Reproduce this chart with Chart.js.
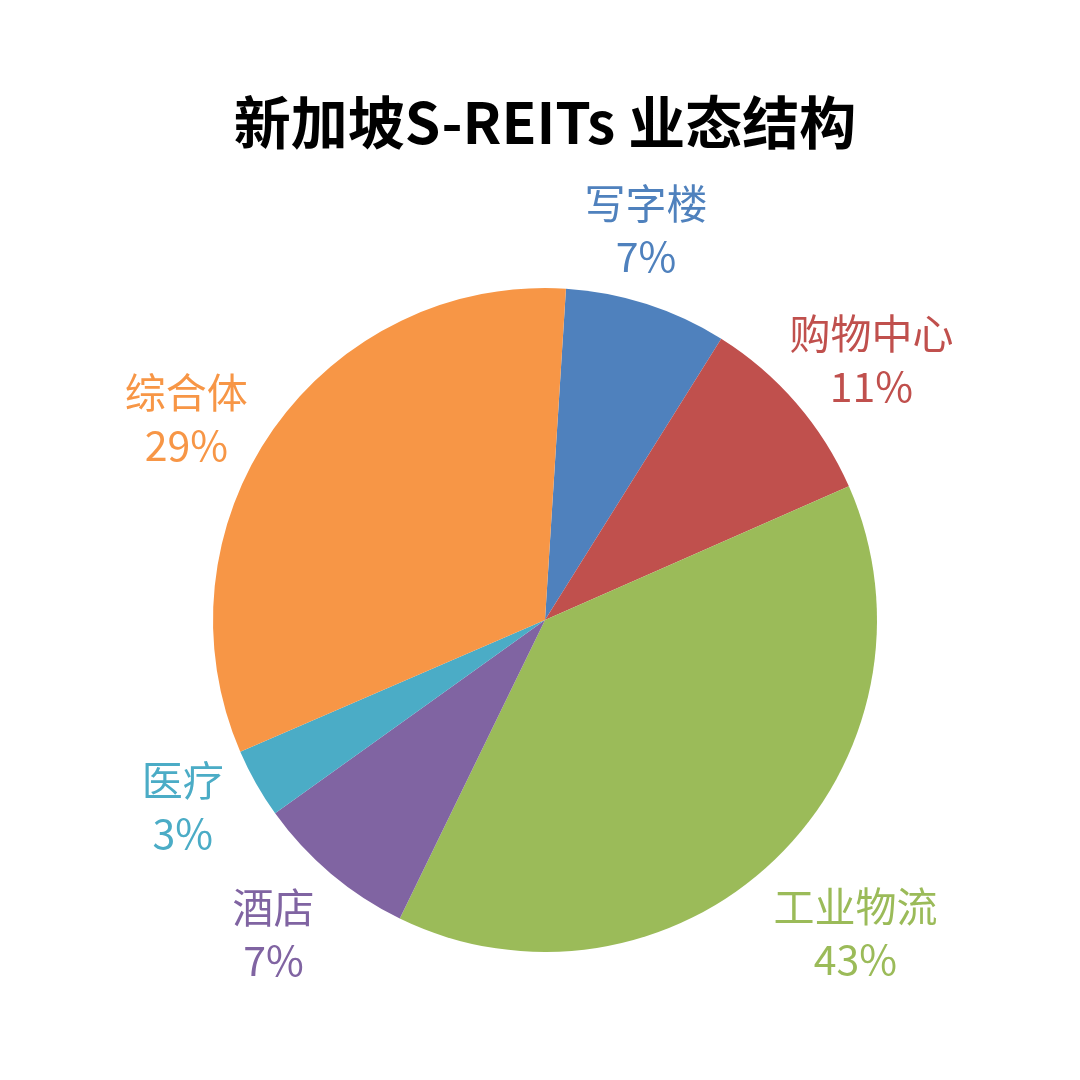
<!DOCTYPE html>
<html>
<head>
<meta charset="utf-8">
<script src="https://cdn.jsdelivr.net/npm/chart.js@4"></script>
<style>
  html, body { margin: 0; padding: 0; background: #ffffff; }
  #wrap { width: 1080px; height: 1080px; }
</style>
</head>
<body>
<div id="wrap"><canvas id="c" width="1080" height="1080"></canvas></div>
<script>
// Categories
const categories = ['写字楼', '购物中心', '工业物流', '酒店', '医疗', '综合体'];
// Slice sizes (share of the circle, %)
const sliceValues = [7.9, 9.5, 38.8, 7.9, 3.4, 32.5];
// Percentages printed in the picture
const pctLabels = ['7%', '11%', '43%', '7%', '3%', '29%'];
const colors = ['#4F81BD', '#C0504D', '#9BBB59', '#8064A2', '#4BACC6', '#F79646'];
const titleText = '新加坡S-REITs 业态结构';

// label nudges (px) relative to mid-angle placement
const labelNudge = [[-25, 2], [15, 10], [25, 17], [-6, 0], [-4, -15], [-22, 36]];

const outsideLabels = {
  id: 'outsideLabels',
  afterDatasetsDraw(chart) {
    const ctx = chart.ctx;
    const meta = chart.getDatasetMeta(0);
    ctx.save();
    ctx.textAlign = 'center';
    ctx.textBaseline = 'middle';
    ctx.font = '400 41px "Noto Sans CJK SC", "Noto Sans", sans-serif';
    meta.data.forEach((arc, i) => {
      const p = arc.getProps(['x', 'y', 'startAngle', 'endAngle', 'outerRadius'], true);
      const mid = (p.startAngle + p.endAngle) / 2;
      const r = p.outerRadius * 1.24;
      const x = p.x + Math.cos(mid) * r + labelNudge[i][0];
      const y = p.y + Math.sin(mid) * r + labelNudge[i][1];
      ctx.fillStyle = colors[i];
      ctx.fillText(categories[i], x, y - 27);
      ctx.fillText(pctLabels[i], x, y + 26);
    });
    ctx.restore();
  }
};

new Chart(document.getElementById('c'), {
  type: 'pie',
  data: {
    labels: categories,
    datasets: [{
      data: sliceValues,
      backgroundColor: colors,
      borderWidth: 0
    }]
  },
  options: {
    responsive: false,
    animation: false,
    rotation: 3.62,
    layout: { padding: { top: 0, bottom: 128, left: 213, right: 203 } },
    plugins: {
      legend: { display: false },
      tooltip: { enabled: false },
      title: {
        display: true,
        text: titleText,
        color: '#000000',
        font: { family: '"Noto Sans CJK SC", "Noto Sans", sans-serif', size: 57, weight: 'bold', lineHeight: 1.2 },
        padding: { top: 88, bottom: 131.6 }
      }
    }
  },
  plugins: [outsideLabels]
});
</script>
</body>
</html>
